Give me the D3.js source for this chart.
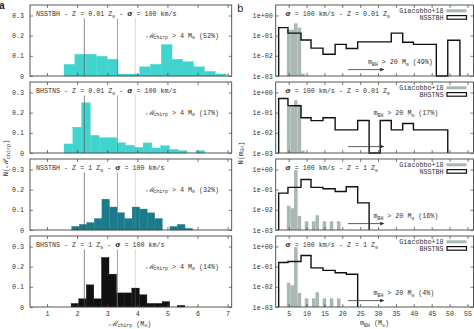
<!DOCTYPE html>
<html><head><meta charset="utf-8">
<script src="https://cdn.jsdelivr.net/npm/d3@7"></script>
<style>
body{margin:0;background:#fff}
text{font-family:"Liberation Mono","DejaVu Sans Mono",monospace;fill:#333;white-space:pre}
</style>
</head><body>
<svg id="c" width="474" height="329"></svg>
<script>
// ---------- panel a: chirp-mass distributions ----------
const chirpTitles = [
  "NSSTBH - Z = 0.01 Z⊙ - σ = 100 km/s",
  "BHSTNS - Z = 0.01 Z⊙ - σ = 100 km/s",
  "NSSTBH - Z = 1 Z⊙ - σ = 100 km/s",
  "BHSTNS - Z = 1 Z⊙ - σ = 100 km/s"
];
const chirpFractions = ["52%", "17%", "32%", "14%"];
const chirpBinStart = [1.565, 1.565, 1.82, 1.80];
const chirpBinWidth = [0.359, 0.292, 0.251, 0.252];
const chirpNSSTBH_Z001 = [0.058, 0.108, 0.108, 0.098, 0.083, 0.010, 0.010, 0.046, 0.058, 0.156, 0.083, 0.071, 0.046, 0.023, 0.010];
const chirpBHSTNS_Z001 = [0.045, 0.128, 0.249, 0.088, 0.076, 0.076, 0.051, 0.038, 0.028, 0.050, 0.025, 0.036, 0.018, 0.012, 0, 0.012];
const chirpNSSTBH_Z1 = [0.018, 0.028, 0.037, 0.057, 0.153, 0.114, 0.086, 0.057, 0.114, 0.104, 0.085, 0.057, 0, 0.018, 0.028, 0.008];
const chirpBHSTNS_Z1 = [0.018, 0.041, 0.110, 0.041, 0.246, 0.163, 0.070, 0.070, 0.094, 0.061, 0.018, 0.018, 0.027, 0, 0.008];
const chirpSeries = [chirpNSSTBH_Z001, chirpBHSTNS_Z001, chirpNSSTBH_Z1, chirpBHSTNS_Z1];
const chirpColors = ["#41d3cd", "#41d3cd", "#1c7b8b", "#111111"];
const chirpMarkers = [2.24, 3.34, 3.93];
const chirpTicksX = [1, 2, 3, 4, 5, 6, 7];
const chirpTicksY = [0, 0.1, 0.2, 0.3];

// ---------- panel b: black-hole mass distributions ----------
const bhTitles = [
  "σ = 100 km/s - Z = 0.01 Z⊙",
  "σ = 100 km/s - Z = 0.01 Z⊙",
  "σ = 100 km/s - Z = 1 Z⊙",
  "σ = 100 km/s - Z = 1 Z⊙"
];
const bhNames = ["NSSTBH", "BHSTNS", "NSSTBH", "BHSTNS"];
const bhFractions = ["49%", "17%", "16%", "4%"];
const bhEdges = [2.2, 4.8, 8.45, 11.25, 14.6, 18.0, 21.1, 24.3, 27.5, 30.6, 33.7, 36.9, 39.9, 43.1, 46.3, 49.5, 52.9];
const bhNSSTBH_Z001 = [0.25, 0.133, 0.061, 0.024, 0.012, 0.037, 0.023, 0.049, 0.049, 0.049, 0.133, 0.047, 0.037, 0.037, 0, 0.059];
const bhBHSTNS_Z001 = [0.50, 0.22, 0.056, 0.040, 0.056, 0.014, 0.014, 0.041, 0, 0.041, 0.014, 0.029, 0.014, 0.014, 0.014];
const bhNSSTBH_Z1 = [0.067, 0.13, 0.32, 0.13, 0.11, 0.081, 0.14, 0.022];
const bhBHSTNS_Z1 = [0.16, 0.18, 0.355, 0.087, 0.065, 0.050, 0.042];
const bhSeries = [bhNSSTBH_Z001, bhBHSTNS_Z001, bhNSSTBH_Z1, bhBHSTNS_Z1];
// Giacobbo+18 reference, 1 Msun bins starting at 4.5 Msun
const giacStart = 4.5;
const giacZ001 = [0.19, 0.20, 0.41, 0.25, 0.0013];
const giacZ1 = [0.016, 0.012, 0.93, 0.005, 0, 0.0027, 0, 0.0027, 0.0054, 0, 0.0027, 0, 0.0027, 0, 0.0027];
const giacSeries = [giacZ001, giacZ001, giacZ1, giacZ1];
const bhArrow = [21.6, 31.6];
const bhTicksX = [5, 10, 15, 20, 25, 30, 35, 40, 45, 50, 55];
const bhTicksY = [1e-3, 1e-2, 1e-1, 1e0];
const bhTickLabelsY = ["1e-03", "1e-02", "1e-01", "1e+00"];

// ---------- layout ----------
const svg = d3.select("#c");
const tops = [5, 82, 159, 236];
const H = 71;
const FS = 6.7;
const xL = d3.scaleLinear().domain([0.435, 7.136]).range([30, 231.7]);
const xR = d3.scaleLinear().domain([1.37, 56.7]).range([275.7, 473.5]);

// text with subscripts (_{..} and ⊙), script M and bold sigma
function rich(sel, str) {
  const parts = str.split(/(_\{[^}]*\}|⊙|σ|ℳ)/).filter(s => s.length);
  let shift = 0;
  parts.forEach(p => {
    let t = p, sub = false, bold = false, script = false;
    if (p.startsWith("_{")) { t = p.slice(2, -1); sub = true; }
    else if (p === "⊙") { sub = true; }
    else if (p === "σ") { bold = true; }
    else if (p === "ℳ") { script = true; }
    const ts = sel.append("tspan").text(t);
    const target = sub ? 1.8 : 0;
    if (target !== shift) { ts.attr("dy", target - shift); shift = target; }
    if (sub) ts.attr("font-size", "0.72em");
    if (bold) ts.attr("font-weight", "bold").attr("font-family", "DejaVu Sans");
    if (script) ts.attr("font-family", "DejaVu Serif").attr("font-style", "italic").attr("font-size", "1.1em");
  });
  return sel;
}

const defs = svg.append("defs");
defs.append("marker").attr("id", "arr").attr("viewBox", "0 0 10 10")
  .attr("refX", 9).attr("refY", 5).attr("markerWidth", 5).attr("markerHeight", 4)
  .attr("orient", "auto").attr("markerUnits", "userSpaceOnUse")
  .append("path").attr("d", "M0,0L10,5L0,10z").attr("fill", "#333");

tops.forEach((top, i) => {
  const bottom = top + H;
  const last = i === tops.length - 1;

  // ----- left panel -----
  const yL = d3.scaleLinear().domain([0, 0.352]).range([bottom, top]);
  const gL = svg.append("g");
  const vals = chirpSeries[i], s0 = chirpBinStart[i], w = chirpBinWidth[i];
  gL.selectAll("rect.bar").data(vals.map((v, k) => ({v, a: s0 + k * w, b: s0 + (k + 1) * w})).filter(d => d.v > 0))
    .join("rect").attr("class", "bar")
    .attr("x", d => xL(d.a)).attr("width", d => xL(d.b) - xL(d.a))
    .attr("y", d => yL(d.v)).attr("height", d => yL(0) - yL(d.v))
    .attr("fill", chirpColors[i]).attr("stroke", chirpColors[i]).attr("stroke-width", 0.3);

  chirpMarkers.forEach((m, k) => {
    gL.append("line").attr("x1", xL(m)).attr("x2", xL(m))
      .attr("y1", yL(0.285)).attr("y2", yL(0))
      .attr("stroke", k === 0 ? "#555" : (k === 1 ? "#777" : "#888"))
      .attr("stroke-width", 0.7)
      .attr("stroke-dasharray", k === 2 ? "1,1" : null);
  });

  gL.append("g").attr("transform", `translate(${xL.range()[0]},0)`)
    .call(d3.axisLeft(yL).tickValues(chirpTicksY).tickSize(-3).tickPadding(6)
      .tickFormat(d => d === 0 ? "0" : d3.format(".1f")(d)));
  gL.append("g").attr("transform", `translate(${xL.range()[1]},0)`)
    .call(d3.axisRight(yL).tickValues(chirpTicksY).tickSize(-3).tickFormat(""));
  gL.append("g").attr("transform", `translate(0,${bottom})`)
    .call(d3.axisBottom(xL).tickValues(chirpTicksX).tickSize(-3).tickPadding(4.5)
      .tickFormat(last ? d3.format("d") : ""));
  gL.append("g").attr("transform", `translate(0,${top})`)
    .call(d3.axisTop(xL).tickValues(chirpTicksX).tickSize(-3).tickFormat(""));

  gL.append("rect").attr("x", xL.range()[0]).attr("y", top)
    .attr("width", xL.range()[1] - xL.range()[0]).attr("height", H)
    .attr("fill", "none").attr("stroke", "#444").attr("stroke-width", 0.9);

  rich(gL.append("text").attr("x", 36).attr("y", top + 11).attr("font-size", FS), chirpTitles[i]);
  rich(gL.append("text").attr("x", 145.5).attr("y", top + 32.5).attr("font-size", FS),
    "ℳ_{chirp} > 4 M⊙ (" + chirpFractions[i] + ")");

  // ----- right panel -----
  const yR = d3.scaleLog().domain([1e-3, 3.3]).range([bottom, top]).clamp(true);
  const gR = svg.append("g");
  const gv = giacSeries[i];
  gR.selectAll("rect.giac").data(gv.map((v, k) => ({v, a: giacStart + k, b: giacStart + k + 1})).filter(d => d.v > 0))
    .join("rect").attr("class", "giac")
    .attr("x", d => xR(d.a)).attr("width", d => xR(d.b) - xR(d.a))
    .attr("y", d => yR(d.v)).attr("height", d => bottom - yR(d.v))
    .attr("fill", "#a9b9b1");

  const bv = bhSeries[i];
  const pts = [[bhEdges[0], 1e-3]];
  bv.forEach((v, k) => {
    const vv = v > 0 ? v : 1e-3;
    pts.push([bhEdges[k], vv]);
    pts.push([bhEdges[k + 1], vv]);
  });
  pts.push([bhEdges[bv.length], 1e-3]);
  gR.append("path").attr("d", d3.line().x(d => xR(d[0])).y(d => yR(d[1]))(pts))
    .attr("fill", "none").attr("stroke", "#111").attr("stroke-width", 1.4)
    .attr("stroke-linejoin", "miter");

  gR.append("g").attr("transform", `translate(${xR.range()[0]},0)`)
    .call(d3.axisLeft(yR).tickValues(bhTicksY).tickSize(-3).tickPadding(3)
      .tickFormat((d, k) => bhTickLabelsY[k]));
  gR.append("g").attr("transform", `translate(${xR.range()[1]},0)`)
    .call(d3.axisRight(yR).tickValues(bhTicksY).tickSize(-3).tickFormat(""));
  gR.append("g").attr("transform", `translate(0,${bottom})`)
    .call(d3.axisBottom(xR).tickValues(bhTicksX).tickSize(-3).tickPadding(4.5)
      .tickFormat(last ? d3.format("d") : ""));
  gR.append("g").attr("transform", `translate(0,${top})`)
    .call(d3.axisTop(xR).tickValues(bhTicksX).tickSize(-3).tickFormat(""));

  gR.append("rect").attr("x", xR.range()[0]).attr("y", top)
    .attr("width", xR.range()[1] - xR.range()[0]).attr("height", H)
    .attr("fill", "none").attr("stroke", "#444").attr("stroke-width", 0.9);

  rich(gR.append("text").attr("x", 285.5).attr("y", top + 11).attr("font-size", FS), bhTitles[i]);

  // legend
  gR.append("text").attr("x", 443.5).attr("y", top + 7.8).attr("text-anchor", "end")
    .attr("font-size", FS).text("Giacobbo+18");
  gR.append("rect").attr("x", 446.5).attr("y", top + 4.3).attr("width", 20).attr("height", 3)
    .attr("fill", "#a9b9b1");
  gR.append("text").attr("x", 443.5).attr("y", top + 15.2).attr("text-anchor", "end")
    .attr("font-size", FS).text(bhNames[i]);
  gR.append("rect").attr("x", 447).attr("y", top + 10.6).attr("width", 19.5).attr("height", 3.6)
    .attr("fill", "#fff").attr("stroke", "#111").attr("stroke-width", 1.2);

  // threshold annotation and arrow
  const ay = bottom - 6.4;
  gR.append("line").attr("x1", xR(bhArrow[0])).attr("x2", xR(bhArrow[1]))
    .attr("y1", ay).attr("y2", ay).attr("stroke", "#333").attr("stroke-width", 0.8)
    .attr("marker-end", "url(#arr)");
  const ty = i === 1 ? bottom - 38.2 : bottom - 12.2;
  const tx = i === 0 ? 368 : 373.5;
  rich(gR.append("text").attr("x", tx).attr("y", ty).attr("font-size", FS),
    "m_{BH} > 20 M⊙ (" + bhFractions[i] + ")");
});

svg.selectAll(".tick text").attr("font-size", FS).attr("fill", "#444")
  .attr("font-family", "Liberation Mono");
svg.selectAll(".tick line").attr("stroke", "#444").attr("stroke-width", 0.7);
svg.selectAll(".domain").remove();

// axis titles
rich(svg.append("text").attr("x", 130).attr("y", 325.5).attr("text-anchor", "middle").attr("font-size", 6.8), "ℳ_{chirp} (M⊙)");
rich(svg.append("text").attr("x", 374.5).attr("y", 325).attr("text-anchor", "middle").attr("font-size", 6.8), "m_{BH} (M⊙)");
rich(svg.append("text").attr("transform", "translate(8,158) rotate(-90)").attr("text-anchor", "middle").attr("font-size", 7), "N(ℳ_{chirp})");
rich(svg.append("text").attr("transform", "translate(242.5,153) rotate(-90)").attr("text-anchor", "middle").attr("font-size", 7), "N(m_{BH})");

// panel letters
svg.append("text").attr("x", -1).attr("y", 8.5).attr("font-size", 10).attr("font-weight", "bold")
  .attr("font-family", "DejaVu Sans").style("fill", "#222").text("a");
svg.append("text").attr("x", 237).attr("y", 12).attr("font-size", 11)
  .attr("font-family", "Liberation Serif").style("fill", "#222").text("b");
</script>
</body></html>
